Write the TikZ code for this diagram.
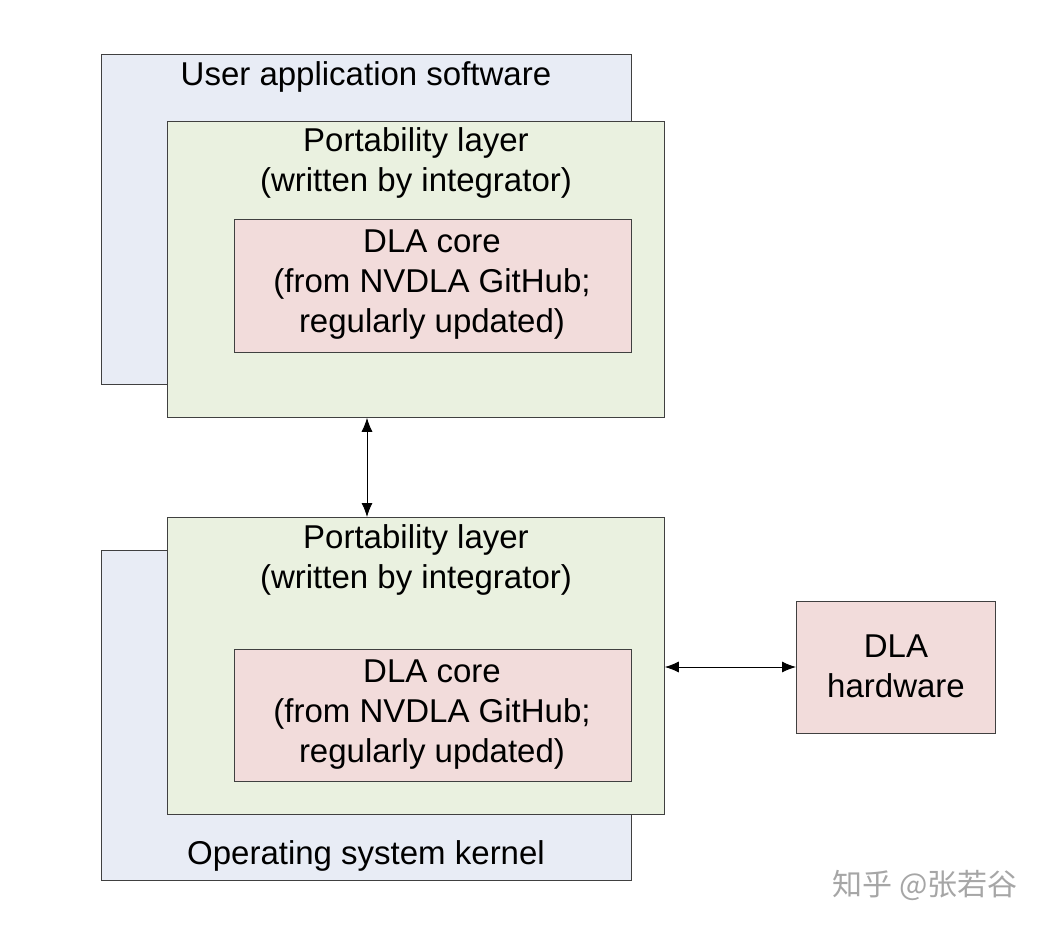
\documentclass[tikz,border=0pt]{standalone}
\usepackage{fontspec}
\setmainfont{Liberation Sans}
\newfontfamily\cjk{Noto Sans CJK SC}
\usetikzlibrary{arrows.meta}
\definecolor{bluebg}{HTML}{E8ECF5}
\definecolor{greenbg}{HTML}{EAF1E0}
\definecolor{pinkbg}{HTML}{F2DCDB}
\begin{document}
\begin{tikzpicture}[x=1pt,y=-1pt,
  box/.style={draw=black!75,line width=0.8pt},
  txt/.style={font=\fontsize{33}{40}\selectfont,align=center,inner sep=0pt},
  arr/.style={{Latex[length=14pt,width=11pt]}-{Latex[length=14pt,width=11pt]},line width=0.9pt}]
\useasboundingbox (0,0) rectangle (1050,930);
% top group
\node[box,fill=bluebg,minimum width=530pt,minimum height=330pt,anchor=north west] (user) at (101,54) {};
\node[box,fill=greenbg,minimum width=497pt,minimum height=296pt,anchor=north west] (ptop) at (167,121) {};
\node[box,fill=pinkbg,minimum width=397pt,minimum height=133pt,anchor=north west] (ctop) at (234,219) {};
\node[txt] (tuser) at (366,77) {User application software};
\node[txt] (tptop) at (416,163) {Portability layer\\(written by integrator)};
\node[txt] (tctop) at (432,285) {DLA core\\(from NVDLA GitHub;\\regularly updated)};
% bottom group
\node[box,fill=bluebg,minimum width=530pt,minimum height=330pt,anchor=north west] (os) at (101,550) {};
\node[box,fill=greenbg,minimum width=497pt,minimum height=297pt,anchor=north west] (pbot) at (167,517) {};
\node[box,fill=pinkbg,minimum width=397pt,minimum height=132pt,anchor=north west] (cbot) at (234,649) {};
\node[txt] (tos) at (366,856) {Operating system kernel};
\node[txt] (tpbot) at (416,560) {Portability layer\\(written by integrator)};
\node[txt] (tcbot) at (432,715) {DLA core\\(from NVDLA GitHub;\\regularly updated)};
% hardware
\node[box,fill=pinkbg,minimum width=199pt,minimum height=132pt,anchor=north west] (hw) at (796,601) {};
\node[txt] (thw) at (896,666) {DLA\\hardware};
% arrows
\coordinate (ax) at (367,0);
\draw[arr] (ptop.south -| ax) -- (pbot.north -| ax);
\coordinate (ay) at (0,667);
\draw[arr] (pbot.east |- ay) -- (hw.west |- ay);
% watermark
\node[font=\cjk\fontsize{30}{34}\selectfont,text=black!35,inner sep=0pt] (wm) at (925,885) {知乎 @张若谷};
\end{tikzpicture}
\end{document}
